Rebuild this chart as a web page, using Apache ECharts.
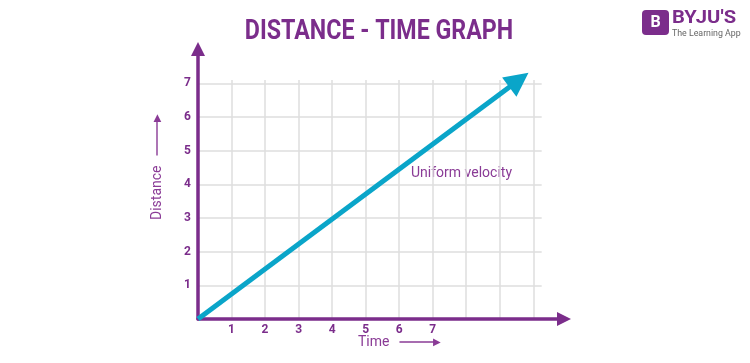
<!DOCTYPE html>
<html><head><meta charset="utf-8">
<script src="https://cdn.jsdelivr.net/npm/echarts@6/dist/echarts.min.js"></script>
<style>html,body{margin:0;padding:0;background:#fff}#c{width:750px;height:363px}</style>
</head><body><div id="c"></div>
<script>
const xTicks = [1, 2, 3, 4, 5, 6, 7];
const yTicks = [1, 2, 3, 4, 5, 6, 7];
const motionLine = [[0, 0], [9.57, 7.1]];
const titleText = 'DISTANCE - TIME GRAPH';
const annotation = 'Uniform velocity';

const PURPLE = '#7b2d8b';
const LPURPLE = '#8a3b96';
const CYAN = '#0aa5c9';
const GRID = '#dedede';

const chart = echarts.init(document.getElementById('c'));
const arrowRich = {
  t: { fill: LPURPLE, fontSize: 14, fontFamily: 'Roboto' },
  g: { width: 10 },
  l: { width: 36, height: 1.4, backgroundColor: LPURPLE, fontSize: 1 },
  h: { fill: LPURPLE, fontSize: 10, padding: [0, 0, 0, -2] }
};
const hidden = { axisLine: { show: false }, axisTick: { show: false }, axisLabel: { show: false }, splitLine: { show: false } };
const tickLabel = { color: PURPLE, fontWeight: 'bold', fontSize: 12, fontFamily: 'Roboto' };
chart.setOption({
  animation: false,
  grid: [
    { left: 198, top: 49, width: 366, height: 270 },
    { left: 198, top: 80, width: 335.3, height: 239 },
    { left: 198, top: 83.4, width: 343.7, height: 235.6 }
  ],
  xAxis: [
    { gridIndex: 0, type: 'value', min: 0, max: 10.915,
      axisLine: { show: true, onZero: false, lineStyle: { color: PURPLE, width: 3.5 }, symbol: ['none', 'triangle'], symbolSize: [14, 14] },
      axisTick: { show: false }, axisLabel: { show: false }, splitLine: { show: false } },
    { gridIndex: 1, type: 'value', min: 0, max: 10, interval: 1,
      axisLine: { show: false }, axisTick: { show: false },
      axisLabel: Object.assign({ margin: 5, formatter: v => xTicks.indexOf(v) >= 0 ? String(v) : '' }, tickLabel),
      splitLine: { show: true, lineStyle: { color: GRID, width: 1.5 } } },
    Object.assign({ gridIndex: 2, type: 'value', min: 0, max: 10.25 }, hidden)
  ],
  yAxis: [
    { gridIndex: 0, type: 'value', min: 0, max: 8.02,
      axisLine: { show: true, onZero: false, lineStyle: { color: PURPLE, width: 3.5 }, symbol: ['none', 'triangle'], symbolSize: [14, 14] },
      axisTick: { show: false }, axisLabel: { show: false }, splitLine: { show: false } },
    Object.assign({ gridIndex: 1, type: 'value', min: 0, max: 7.1 }, hidden),
    { gridIndex: 2, type: 'value', min: 0, max: 7, interval: 1,
      axisLine: { show: false }, axisTick: { show: false },
      axisLabel: Object.assign({ margin: 7, formatter: v => yTicks.indexOf(v) >= 0 ? String(v) : '' }, tickLabel),
      splitLine: { show: true, lineStyle: { color: GRID, width: 1.5 } } }
  ],
  series: [{
    type: 'lines', coordinateSystem: 'cartesian2d', xAxisIndex: 0, yAxisIndex: 0,
    symbol: ['none', 'triangle'], symbolSize: [0, 24],
    lineStyle: { color: CYAN, width: 5, opacity: 1 },
    itemStyle: { color: CYAN },
    data: [{ coords: motionLine }],
    z: 5
  }],
  graphic: [
    { type: 'text', x: 379, y: 32, scaleX: 0.86, style: { text: titleText, fill: PURPLE, fontSize: 27, fontWeight: 'bold', fontFamily: 'Roboto', align: 'center', verticalAlign: 'middle' } },
    { type: 'text', x: 411, y: 173, style: { text: annotation, fill: LPURPLE, fontSize: 14, fontFamily: 'Roboto', verticalAlign: 'middle' } },
    { type: 'text', x: 358, y: 342, style: { text: '{t|Time}{g|}{l| }{h|▶}', rich: arrowRich, verticalAlign: 'middle' } },
    { type: 'text', x: 157, y: 220, rotation: Math.PI / 2, style: { text: '{t|Distance}{g|}{l| }{h|▶}', rich: arrowRich, verticalAlign: 'middle', align: 'left' } },
    { type: 'rect', shape: { x: 642, y: 10, width: 27, height: 25, r: 4 }, style: { fill: PURPLE } },
    { type: 'text', x: 655.5, y: 23, style: { text: 'B', fill: '#fff', fontSize: 16, fontWeight: 'bold', fontFamily: 'Roboto', align: 'center', verticalAlign: 'middle' } },
    { type: 'text', x: 672, y: 18.5, scaleX: 1.12, style: { text: "BYJU'S", fill: PURPLE, fontSize: 18, fontWeight: 'bold', fontFamily: 'Roboto', verticalAlign: 'middle' } },
    { type: 'text', x: 672, y: 34, style: { text: 'The Learning App', fill: '#666', fontSize: 8.8, fontFamily: 'Roboto', verticalAlign: 'middle' } }
  ]
});
</script></body></html>
